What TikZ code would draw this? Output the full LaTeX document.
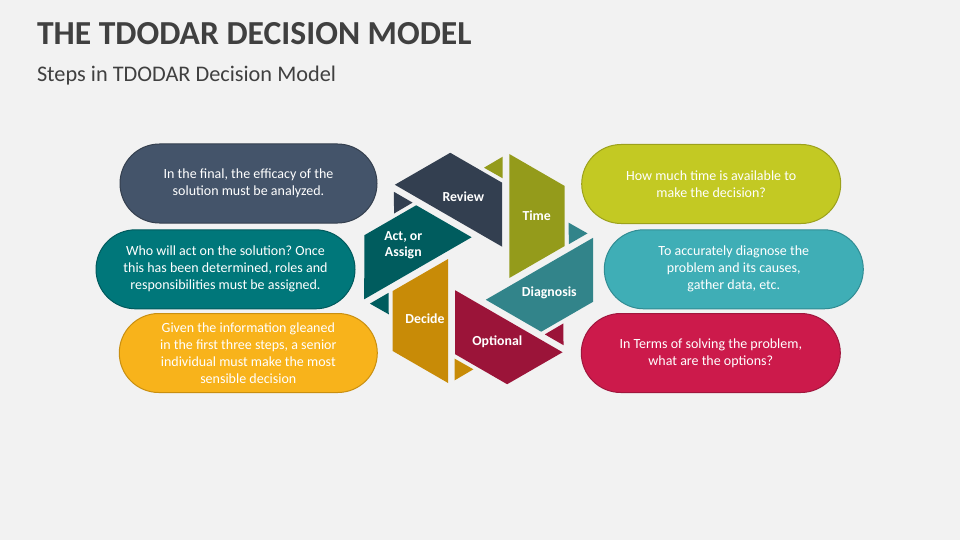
\documentclass[tikz,border=0pt]{standalone}
\usepackage{fontspec}
\setmainfont{Carlito}
\frenchspacing
\definecolor{bg}{HTML}{F2F2F2}
\definecolor{titlegray}{HTML}{404040}
\definecolor{reviewP}{HTML}{333F50}
\definecolor{reviewB}{HTML}{44546A}
\definecolor{reviewD}{HTML}{35404F}
\definecolor{timeP}{HTML}{949B1B}
\definecolor{timeB}{HTML}{C3C923}
\definecolor{timeD}{HTML}{9CA11C}
\definecolor{diagP}{HTML}{32848A}
\definecolor{diagB}{HTML}{3FAEB6}
\definecolor{diagD}{HTML}{318C93}
\definecolor{optP}{HTML}{9B1439}
\definecolor{optB}{HTML}{CC1A4B}
\definecolor{optD}{HTML}{A0163D}
\definecolor{decP}{HTML}{C88B07}
\definecolor{decB}{HTML}{F8B31B}
\definecolor{decD}{HTML}{C98F10}
\definecolor{actP}{HTML}{005C5E}
\definecolor{actB}{HTML}{00777A}
\definecolor{actD}{HTML}{005A5D}
\newcommand\hexpiece[2]{%
  \begin{scope}[rotate=#1]
    \fill[#2] (30.6,-9.5) -- (30.6,114.5) -- (86,82.5) -- (86,22.5) -- cycle;
    \fill[#2] (5.3,100.8) -- (24,111.8) -- (24,90.2) -- cycle;
  \end{scope}}
\begin{document}
\begin{tikzpicture}[x=1pt,y=-1pt,
  every node/.style={inner sep=0pt, outer sep=0pt},
  bubble/.style={draw, line width=1pt, rounded corners=39.5pt, minimum height=79pt,
    text=white, align=center, font=\fontsize{14}{17}\selectfont},
  plabel/.style={text=white, align=center, font=\fontsize{13.8}{16}\selectfont\bfseries}]
\useasboundingbox[fill=bg] (0,0) rectangle (960,540);
% titles
\node[anchor=base west, text=titlegray, font=\fontsize{33.6}{38}\selectfont\bfseries] (title) at (37,45) {THE TDODAR DECISION MODEL};
\node[anchor=base west, text=titlegray, font=\fontsize{22.3}{26}\selectfont] (subtitle) at (37,81.7) {Steps in TDODAR Decision Model};
% left bubbles
\node[bubble, fill=reviewB, draw=reviewD, minimum width=257pt] (breview) at (248.5,183.5)
  {In the final, the efficacy of the\\solution must be analyzed.};
\node[bubble, fill=actB, draw=actD, minimum width=259pt] (bact) at (225.5,269.3)
  {Who will act on the solution? Once\\this has been determined, roles and\\responsibilities must be assigned.};
\node[bubble, fill=decB, draw=decD, minimum width=258pt] (bdecide) at (248.3,353)
  {Given the information gleaned\\in the first three steps, a senior\\individual must make the most\\sensible decision};
% right bubbles
\node[bubble, fill=timeB, draw=timeD, minimum width=259pt] (btime) at (711.2,184)
  {How much time is available to\\make the decision?};
\node[bubble, fill=diagB, draw=diagD, minimum width=259pt] (bdiag) at (733.8,269.3)
  {To accurately diagnose the\\problem and its causes,\\gather data, etc.};
\node[bubble, fill=optB, draw=optD, minimum width=259pt] (bopt) at (710.8,353)
  {In Terms of solving the problem,\\what are the options?};
% central hexagon pieces
\begin{scope}[shift={(478.7,268.5)}, yscale=-1]
  \hexpiece{0}{timeP}
  \hexpiece{60}{diagP}
  \hexpiece{120}{optP}
  \hexpiece{180}{decP}
  \hexpiece{-120}{actP}
  \hexpiece{-60}{reviewP}
\end{scope}
% piece labels
\node[plabel] (lreview) at (463.3,196.7) {Review};
\node[plabel] (ltime) at (536.7,215.7) {Time};
\node[plabel] (ldiag) at (549.3,293.3) {Diagnosis};
\node[plabel] (lopt) at (497.3,341.7) {Optional};
\node[plabel] (ldec) at (425,319) {Decide};
\node[plabel] (lact) at (403.3,245) {Act, or\\Assign};
\end{tikzpicture}
\end{document}
